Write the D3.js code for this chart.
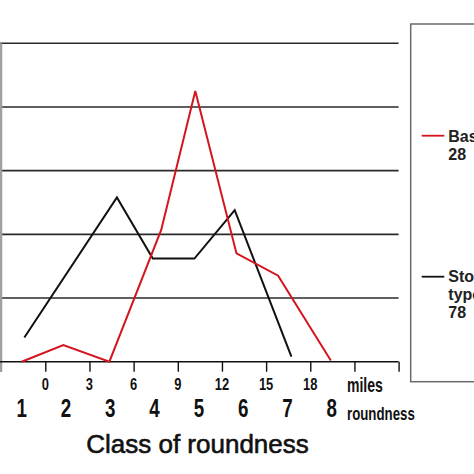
<!DOCTYPE html>
<html>
<head>
<meta charset="utf-8">
<script src="https://cdn.jsdelivr.net/npm/d3@7"></script>
<style>
html,body{margin:0;padding:0;background:#fff;overflow:hidden;}
svg{display:block;}
</style>
</head>
<body>
<svg id="chart" width="474" height="474"></svg>
<script>
// ---- data ----
const basaltX = [1, 1.94, 2.98, 4.15, 4.92, 5.85, 6.79, 7.98];
const basaltY = [0, 2.6, 0, 20.7, 42.5, 17, 13.5, 0.2];
const stoneX = [1.06, 3.15, 3.96, 4.9, 5.81, 7.09];
const stoneY = [3.8, 25.8, 16.2, 16.2, 23.8, 0.8];
const milesTicks = [0, 3, 6, 9, 12, 15, 18, 21, 24];
const milesLabels = ["0", "3", "6", "9", "12", "15", "18", "", ""];
const roundClasses = [1, 2, 3, 4, 5, 6, 7, 8];
const gridValues = [10, 20, 30, 40, 50];
const legendLabels = [["Basalt", "28"], ["Stone", "type", "78"]];

const svg = d3.select("#chart");
const x = d3.scaleLinear().domain([1, 8]).range([21.7, 331.7]);
const xm = d3.scaleLinear().domain([0, 24]).range([45.3, 398.6]);
const y = d3.scaleLinear().domain([0, 50]).range([361.7, 43.3]);

// grid lines
svg.append("g").selectAll("line").data(gridValues).join("line")
  .attr("x1", 0).attr("x2", 398.6)
  .attr("y1", d => y(d)).attr("y2", d => y(d))
  .attr("stroke", "#2a2a2a").attr("stroke-width", 1.6);

// left vertical line
svg.append("line").attr("x1", 1).attr("x2", 1).attr("y1", y(50)).attr("y2", 372)
  .attr("stroke", "#a0a0a0").attr("stroke-width", 2.5);

// miles axis
const axisG = svg.append("g").attr("transform", `translate(0,${y(0)})`)
  .call(d3.axisBottom(xm).tickValues(milesTicks).tickFormat("").tickSize(10).tickSizeOuter(0));
axisG.select(".domain").attr("d", `M0,0H${xm(24)}`).attr("stroke", "#111").attr("stroke-width", 1.6);
axisG.selectAll(".tick line").attr("stroke", "#111").attr("stroke-width", 1.4);

const sans = "'Liberation Sans',Arial,sans-serif";
svg.append("g").selectAll("text").data(milesTicks.filter((d,i)=>milesLabels[i]!=="")).join("text")
  .attr("transform", d => `translate(${xm(d)},390.3) scale(0.76,1.02)`)
  .attr("text-anchor", "middle")
  .style("font-family", sans).style("font-weight", "bold").style("font-size", "17px")
  .attr("fill", "#111")
  .text((d,i) => milesLabels[i]);
svg.append("text").attr("transform", "translate(347,392) scale(0.78,1.15)")
  .style("font-family", sans).style("font-weight", "bold").style("font-size", "18px")
  .attr("fill", "#111").text("miles");

// roundness class labels
svg.append("g").selectAll("text").data(roundClasses).join("text")
  .attr("transform", d => `translate(${x(d)},416.7) scale(0.75,1)`)
  .attr("text-anchor", "middle")
  .style("font-family", sans).style("font-weight", "bold").style("font-size", "25px")
  .attr("fill", "#111").text(d => d);
svg.append("text").attr("transform", "translate(347,420) scale(0.78,1.13)")
  .style("font-family", sans).style("font-weight", "bold").style("font-size", "17px")
  .attr("fill", "#111").text("roundness");

// title
svg.append("text").attr("x", 197.5).attr("y", 453.3).attr("text-anchor", "middle")
  .style("font-family", sans).style("font-size", "26px")
  .attr("fill", "#111").attr("stroke", "#111").attr("stroke-width", 0.6)
  .text("Class of roundness");

// series lines
const line = d3.line().x(d => x(d[0])).y(d => y(d[1]));
svg.append("path").datum(stoneX.map((v,i)=>[v, stoneY[i]]))
  .attr("d", line).attr("fill", "none").attr("stroke", "#111").attr("stroke-width", 2);
svg.append("path").datum(basaltX.map((v,i)=>[v, basaltY[i]]))
  .attr("d", line).attr("fill", "none").attr("stroke", "#d4141e").attr("stroke-width", 2);

// legend box
svg.append("rect").attr("x", 410.7).attr("y", 24).attr("width", 100).attr("height", 357.7)
  .attr("fill", "none").attr("stroke", "#6a6a6a").attr("stroke-width", 1.5);

const legendItems = [
  {color: "#d4141e", y: 135.7, lines: legendLabels[0], base: 141.7},
  {color: "#111", y: 276.7, lines: legendLabels[1], base: 282}
];
legendItems.forEach(it => {
  svg.append("line").attr("x1", 421.7).attr("x2", 444.3).attr("y1", it.y).attr("y2", it.y)
    .attr("stroke", it.color).attr("stroke-width", 1.8);
  svg.append("g").selectAll("text").data(it.lines).join("text")
    .attr("x", 448.3).attr("y", (d,i) => it.base + i*18.2)
    .style("font-family", sans).style("font-size", "16px")
    .style("font-weight", "bold")
    .attr("fill", "#222").text(d => d);
});
</script>
</body>
</html>
